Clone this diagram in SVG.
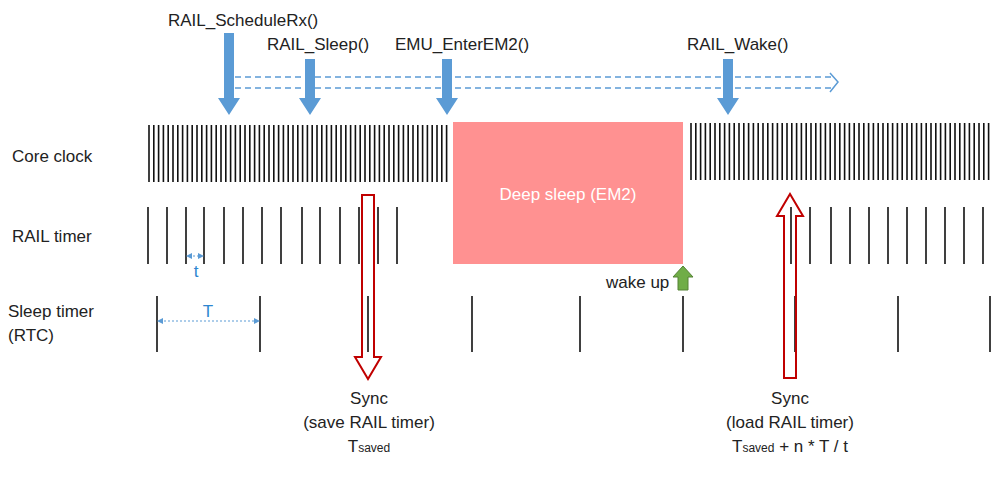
<svg xmlns="http://www.w3.org/2000/svg" width="1000" height="480" viewBox="0 0 1000 480">
<style>
text{font-family:"Liberation Sans",Arial,sans-serif;font-size:17px;fill:#222}
.tk{stroke:#111;stroke-width:1.6}
.blue{fill:#5b9bd5}
.red{fill:none;stroke:#c00000;stroke-width:2}
.lbl{fill:#2e86d0}
</style>
<defs>
<marker id="dm" markerWidth="6" markerHeight="6" refX="3" refY="3" orient="auto-start-reverse"><path d="M0,0 L6,3 L0,6z" fill="#5b9bd5"/></marker>
</defs>
<rect width="1000" height="480" fill="#fff"/>
<g id="core-clock">
<path class="tk" d="M149,125V182M153.8,125V182M158.6,125V182M163.4,125V182M168.2,125V182M173,125V182M177.8,125V182M182.6,125V182M187.4,125V182M192.2,125V182M197,125V182M201.8,125V182M206.6,125V182M211.4,125V182M216.2,125V182M221,125V182M225.8,125V182M230.6,125V182M235.4,125V182M240.2,125V182M245,125V182M249.8,125V182M254.6,125V182M259.4,125V182M264.2,125V182M269,125V182M273.8,125V182M278.6,125V182M283.4,125V182M288.2,125V182M293,125V182M297.8,125V182M302.6,125V182M307.4,125V182M312.2,125V182M317,125V182M321.8,125V182M326.6,125V182M331.4,125V182M336.2,125V182M341,125V182M345.8,125V182M350.6,125V182M355.4,125V182M360.2,125V182M365,125V182M369.8,125V182M374.6,125V182M379.4,125V182M384.2,125V182M389,125V182M393.8,125V182M398.6,125V182M403.4,125V182M408.2,125V182M413,125V182M417.8,125V182M422.6,125V182M427.4,125V182M432.2,125V182M437,125V182M441.8,125V182M446.6,125V182"/>
<path class="tk" d="M691,123V180M695.8,123V180M700.6,123V180M705.4,123V180M710.2,123V180M715,123V180M719.8,123V180M724.6,123V180M729.4,123V180M734.2,123V180M739,123V180M743.8,123V180M748.6,123V180M753.4,123V180M758.2,123V180M763,123V180M767.8,123V180M772.6,123V180M777.4,123V180M782.2,123V180M787,123V180M791.8,123V180M796.6,123V180M801.4,123V180M806.2,123V180M811,123V180M815.8,123V180M820.6,123V180M825.4,123V180M830.2,123V180M835,123V180M839.8,123V180M844.6,123V180M849.4,123V180M854.2,123V180M859,123V180M863.8,123V180M868.6,123V180M873.4,123V180M878.2,123V180M883,123V180M887.8,123V180M892.6,123V180M897.4,123V180M902.2,123V180M907,123V180M911.8,123V180M916.6,123V180M921.4,123V180M926.2,123V180M931,123V180M935.8,123V180M940.6,123V180M945.4,123V180M950.2,123V180M955,123V180M959.8,123V180M964.6,123V180M969.4,123V180M974.2,123V180M979,123V180M983.8,123V180M988.6,123V180"/>
</g>
<g id="rail-timer">
<path class="tk" d="M148,207V264M167,207V264M186,207V264M204,207V264M224,207V264M243,207V264M262,207V264M281,207V264M302,207V264M320,207V264M340,207V264M359,207V264M378,207V264M397,207V264"/>
<path class="tk" d="M791,207V264M810,207V264M831,207V264M850,207V264M869,207V264M888,207V264M907,207V264M926,207V264M945,207V264M964,207V264M983,207V264"/>
</g>
<g id="sleep-timer">
<path class="tk" d="M157,296V352M260,296V352M368,296V352M472,296V352M580,296V352M683,296V352M795,296V352M898,296V352M990,296V352"/>
</g>
<g id="deep-sleep">
<rect x="453" y="122" width="230" height="142" fill="#ff9191"/>
<text x="568" y="200" text-anchor="middle" style="fill:#fff">Deep sleep (EM2)</text>
</g>
<g id="connectors">
<path d="M235,77H832M235,88H832" stroke="#5b9bd5" stroke-width="1.5" stroke-dasharray="6,4" fill="none"/>
<path d="M830,73L838,82L830,92" stroke="#5b9bd5" stroke-width="1.5" fill="none"/>
<path class="blue" d="M224,33h10v65h6l-11,17l-11,-17h6z"/>
<path class="blue" d="M305,59h10v39h6l-11,17l-11,-17h6z"/>
<path class="blue" d="M442,59h10v39h6l-11,17l-11,-17h6z"/>
<path class="blue" d="M723,59h10v39h6l-11,17l-11,-17h6z"/>
<path class="red" d="M362,195h12v162h7l-13,22l-13,-22h7z"/>
<path class="red" d="M784,378h12v-162h7l-13,-22l-13,22h7z"/>
<path d="M678,290v-13h-5l10,-11l10,11h-5v13z" fill="#70ad47" stroke="#548235" stroke-width="1"/>
<path d="M189,256H201" stroke="#5b9bd5" stroke-width="1" stroke-dasharray="2,2" marker-start="url(#dm)" marker-end="url(#dm)"/>
<path d="M160,321H257" stroke="#5b9bd5" stroke-width="1" stroke-dasharray="2,2" marker-start="url(#dm)" marker-end="url(#dm)"/>
</g>
<g id="labels">
<text x="168" y="26">RAIL_ScheduleRx()</text>
<text x="267" y="50">RAIL_Sleep()</text>
<text x="395" y="50">EMU_EnterEM2()</text>
<text x="687" y="50">RAIL_Wake()</text>
<text x="12" y="162">Core clock</text>
<text x="12" y="242">RAIL timer</text>
<text x="8" y="317">Sleep timer</text>
<text x="8" y="341">(RTC)</text>
<text x="196" y="277" text-anchor="middle" class="lbl">t</text>
<text x="208" y="317" text-anchor="middle" class="lbl">T</text>
<text x="606" y="288">wake up</text>
<text x="369" y="404" text-anchor="middle">Sync</text>
<text x="369" y="428" text-anchor="middle">(save RAIL timer)</text>
<text x="369" y="452" text-anchor="middle">T<tspan font-size="12">saved</tspan></text>
<text x="790" y="404" text-anchor="middle">Sync</text>
<text x="790" y="428" text-anchor="middle">(load RAIL timer)</text>
<text x="790" y="452" text-anchor="middle">T<tspan font-size="12">saved</tspan> + n * T / t</text>
</g>
</svg>
